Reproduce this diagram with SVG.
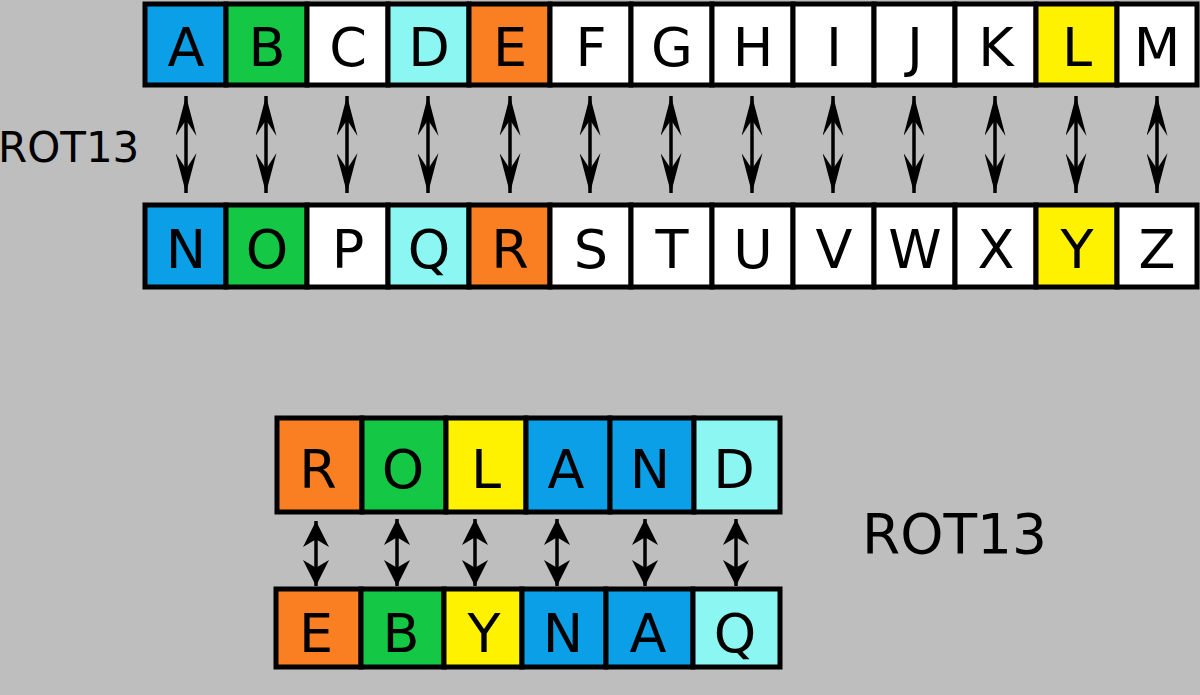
<svg xmlns="http://www.w3.org/2000/svg" width="1200" height="695" viewBox="0 0 1200 695">
<style>
.c{stroke:#000;stroke-width:5}
.t{font-family:"DejaVu Sans",sans-serif;font-size:54px;text-anchor:middle;fill:#000}
.l{font-family:"DejaVu Sans",sans-serif;fill:#000}
.a{stroke:#000;stroke-width:3.5;fill:none;marker-start:url(#h);marker-end:url(#h)}
.s{marker-start:url(#h2);marker-end:url(#h2)}
.w{fill:#fff}.b{fill:#0a9fe6}.g{fill:#14c846}.y{fill:#fff200}.o{fill:#f97f22}.q{fill:#8cf6f2}
</style>
<defs>
<marker id="h" viewBox="0 0 10 10" refX="10" refY="5" markerWidth="40" markerHeight="21" orient="auto-start-reverse" markerUnits="userSpaceOnUse" preserveAspectRatio="none"><path d="M0,0 L10,5 L0,10 L4,5 z"/></marker>
<marker id="h2" viewBox="0 0 10 10" refX="10" refY="5" markerWidth="26" markerHeight="26" orient="auto-start-reverse" markerUnits="userSpaceOnUse" preserveAspectRatio="none"><path d="M0,0 L10,5 L0,10 L3,5 z"/></marker>
</defs>
<rect width="1200" height="695" fill="#bdbebd"/>
<g id="top-row">
<rect class="c b" x="145" y="4" width="81" height="81"/><rect class="c g" x="226" y="4" width="81" height="81"/><rect class="c w" x="307" y="4" width="81" height="81"/><rect class="c q" x="388" y="4" width="81" height="81"/><rect class="c o" x="469" y="4" width="81" height="81"/><rect class="c w" x="550" y="4" width="81" height="81"/><rect class="c w" x="631" y="4" width="81" height="81"/><rect class="c w" x="712" y="4" width="81" height="81"/><rect class="c w" x="793" y="4" width="81" height="81"/><rect class="c w" x="874" y="4" width="81" height="81"/><rect class="c w" x="955" y="4" width="81" height="81"/><rect class="c y" x="1036" y="4" width="81" height="81"/><rect class="c w" x="1117" y="4" width="80" height="81"/>
<text class="t" y="66"><tspan x="186">A</tspan><tspan x="267">B</tspan><tspan x="348">C</tspan><tspan x="429">D</tspan><tspan x="510">E</tspan><tspan x="591">F</tspan><tspan x="672">G</tspan><tspan x="753">H</tspan><tspan x="834">I</tspan><tspan x="915">J</tspan><tspan x="996">K</tspan><tspan x="1077">L</tspan><tspan x="1157">M</tspan></text>
</g>
<g id="bottom-row">
<rect class="c b" x="145" y="205" width="81" height="82"/><rect class="c g" x="226" y="205" width="81" height="82"/><rect class="c w" x="307" y="205" width="81" height="82"/><rect class="c q" x="388" y="205" width="81" height="82"/><rect class="c o" x="469" y="205" width="81" height="82"/><rect class="c w" x="550" y="205" width="81" height="82"/><rect class="c w" x="631" y="205" width="81" height="82"/><rect class="c w" x="712" y="205" width="81" height="82"/><rect class="c w" x="793" y="205" width="81" height="82"/><rect class="c w" x="874" y="205" width="81" height="82"/><rect class="c w" x="955" y="205" width="81" height="82"/><rect class="c y" x="1036" y="205" width="81" height="82"/><rect class="c w" x="1117" y="205" width="80" height="82"/>
<text class="t" y="268"><tspan x="186">N</tspan><tspan x="267">O</tspan><tspan x="348">P</tspan><tspan x="429">Q</tspan><tspan x="510">R</tspan><tspan x="591">S</tspan><tspan x="672">T</tspan><tspan x="753">U</tspan><tspan x="834">V</tspan><tspan x="915">W</tspan><tspan x="996">X</tspan><tspan x="1077">Y</tspan><tspan x="1157">Z</tspan></text>
</g>
<g id="roland">
<rect class="c o" x="277" y="418" width="85" height="94"/><rect class="c g" x="362" y="418" width="84" height="94"/><rect class="c y" x="446" y="418" width="80" height="94"/><rect class="c b" x="526" y="418" width="84" height="94"/><rect class="c b" x="610" y="418" width="84" height="94"/><rect class="c q" x="694" y="418" width="86" height="94"/>
<text class="t" y="488"><tspan x="318">R</tspan><tspan x="403">O</tspan><tspan x="486">L</tspan><tspan x="566">A</tspan><tspan x="650">N</tspan><tspan x="734">D</tspan></text>
</g>
<g id="ebynaq">
<rect class="c o" x="276" y="589" width="85" height="78"/><rect class="c g" x="361" y="589" width="83" height="78"/><rect class="c y" x="444" y="589" width="78" height="78"/><rect class="c b" x="522" y="589" width="84" height="78"/><rect class="c b" x="606" y="589" width="87" height="78"/><rect class="c q" x="693" y="589" width="87" height="78"/>
<text class="t" y="652"><tspan x="316">E</tspan><tspan x="401">B</tspan><tspan x="484">Y</tspan><tspan x="563">N</tspan><tspan x="648">A</tspan><tspan x="735">Q</tspan></text>
</g>
<g id="labels">
<text class="l" x="-2" y="162" font-size="42">ROT13</text>
<text class="l" x="862" y="553" font-size="55">ROT13</text>
</g>
<g id="connectors">
<line class="a" x1="186" y1="96" x2="186" y2="193"/><line class="a" x1="266" y1="96" x2="266" y2="193"/><line class="a" x1="347" y1="96" x2="347" y2="193"/><line class="a" x1="428" y1="96" x2="428" y2="193"/><line class="a" x1="510" y1="96" x2="510" y2="193"/><line class="a" x1="590" y1="96" x2="590" y2="193"/><line class="a" x1="671" y1="96" x2="671" y2="193"/><line class="a" x1="752" y1="96" x2="752" y2="193"/><line class="a" x1="833" y1="96" x2="833" y2="193"/><line class="a" x1="914" y1="96" x2="914" y2="193"/><line class="a" x1="995" y1="96" x2="995" y2="193"/><line class="a" x1="1076" y1="96" x2="1076" y2="193"/><line class="a" x1="1157" y1="96" x2="1157" y2="193"/>
<line class="a s" x1="316" y1="521" x2="316" y2="586"/><line class="a s" x1="397" y1="519" x2="397" y2="586"/><line class="a s" x1="475" y1="519" x2="475" y2="586"/><line class="a s" x1="557" y1="519" x2="557" y2="586"/><line class="a s" x1="645" y1="519" x2="645" y2="586"/><line class="a s" x1="736" y1="519" x2="736" y2="586"/>
</g>
</svg>
